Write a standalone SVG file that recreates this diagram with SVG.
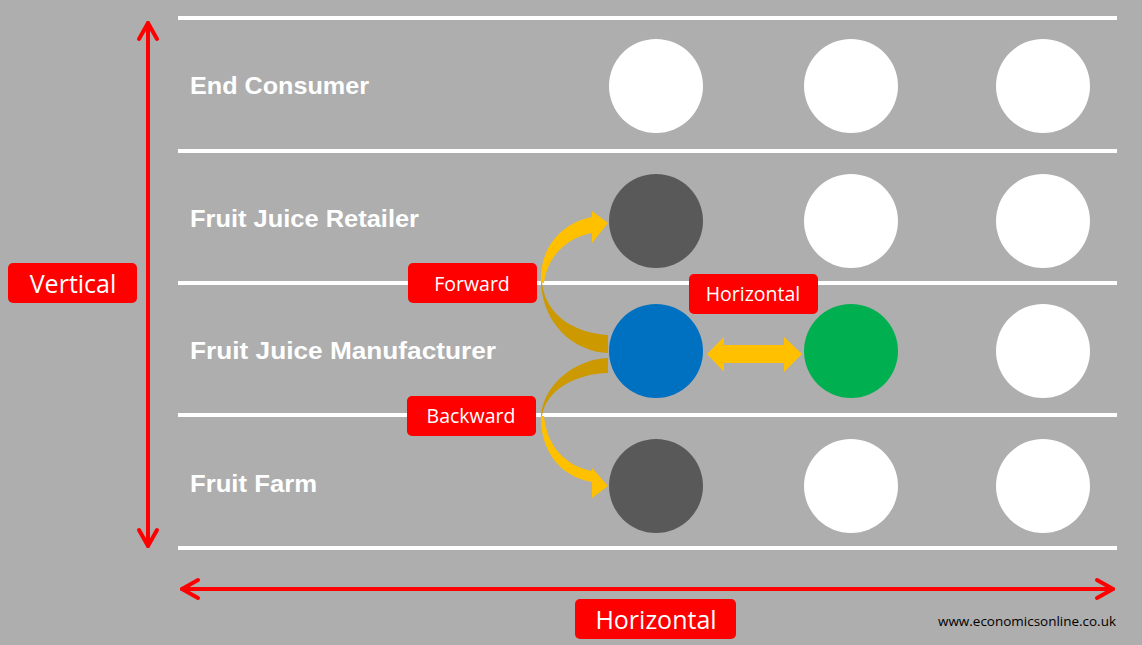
<svg xmlns="http://www.w3.org/2000/svg" width="1142" height="645" viewBox="0 0 1142 645">
<style>
.lane{stroke:#fff;stroke-width:4}
.row{font-family:"Liberation Sans",Arial,sans-serif;font-weight:bold;font-size:24px;fill:#fff}
.lbl{fill:#f00}
.lt{font-family:"Open Sans","Liberation Sans",sans-serif;fill:#fff;text-anchor:middle}
.w{fill:#fff}
.axis{stroke:#f00;stroke-width:4;fill:none;stroke-linecap:round;stroke-linejoin:round}
</style>
<rect width="1142" height="645" fill="#AEAEAE"/>
<g id="lanes">
<line class="lane" x1="178" y1="18" x2="1117" y2="18"/>
<line class="lane" x1="178" y1="151" x2="1117" y2="151"/>
<line class="lane" x1="178" y1="283" x2="1117" y2="283"/>
<line class="lane" x1="178" y1="415" x2="1117" y2="415"/>
<line class="lane" x1="178" y1="548" x2="1117" y2="548"/>
</g>
<g id="row-labels">
<text class="row" x="190" y="94" textLength="179" lengthAdjust="spacingAndGlyphs">End Consumer</text>
<text class="row" x="190" y="227" textLength="229" lengthAdjust="spacingAndGlyphs">Fruit Juice Retailer</text>
<text class="row" x="190" y="359" textLength="306" lengthAdjust="spacingAndGlyphs">Fruit Juice Manufacturer</text>
<text class="row" x="190" y="492" textLength="127" lengthAdjust="spacingAndGlyphs">Fruit Farm</text>
</g>
<g id="consumers">
<circle class="w" cx="656" cy="86" r="47"/>
<circle class="w" cx="851" cy="86" r="47"/>
<circle class="w" cx="1043" cy="86" r="47"/>
</g>
<g id="retailers">
<circle cx="656" cy="221" r="47" fill="#595959"/>
<circle class="w" cx="851" cy="221" r="47"/>
<circle class="w" cx="1043" cy="221" r="47"/>
</g>
<g id="manufacturers">
<circle cx="656" cy="351" r="47" fill="#0070C0"/>
<circle cx="851" cy="351" r="47" fill="#00B050"/>
<circle class="w" cx="1043" cy="351" r="47"/>
</g>
<g id="farms">
<circle cx="656" cy="486" r="47" fill="#595959"/>
<circle class="w" cx="851" cy="486" r="47"/>
<circle class="w" cx="1043" cy="486" r="47"/>
</g>
<g id="connectors">
<path d="M608,335 C575,333 546,316 542,283 L541,283 C543,325 575,352 608,353 Z" fill="#CC9A00"/>
<path d="M541,283 C539,250 560,223 592,217 L592,211 L608,223 L592,243 L592,233 C565,238 547,258 544,283 Z" fill="#FFC000"/>
<path d="M608,358 C575,359 543,385 541,416 L542,416 C546,390 575,374 608,373 Z" fill="#CC9A00"/>
<path d="M541,416 C540,450 560,477 592,482 L592,498 L608,486 L592,468 L592,471 C566,466 547,447 544,416 Z" fill="#FFC000"/>
<path d="M707,354 L724,337 L724,345 L784,345 L784,337 L802,354 L784,372 L784,363 L724,363 L724,372 Z" fill="#FFC000"/>
<line class="axis" x1="148" y1="23" x2="148" y2="546"/>
<polyline class="axis" points="139,39 148,23 157,39"/>
<polyline class="axis" points="139,530 148,546 157,530"/>
<line class="axis" x1="182" y1="589" x2="1113" y2="589"/>
<polyline class="axis" points="198,580 182,589 198,598"/>
<polyline class="axis" points="1097,580 1113,589 1097,598"/>
</g>
<g id="vertical-label">
<rect class="lbl" x="8" y="263" width="129" height="40" rx="5"/>
<text class="lt" x="73" y="293" font-size="25">Vertical</text>
</g>
<g id="horizontal-label">
<rect class="lbl" x="575" y="599" width="161" height="40" rx="5"/>
<text class="lt" x="656" y="629" font-size="25">Horizontal</text>
</g>
<g id="forward-label">
<rect class="lbl" x="408" y="263" width="129" height="40" rx="5"/>
<text class="lt" x="472" y="291" font-size="19.5">Forward</text>
</g>
<g id="backward-label">
<rect class="lbl" x="407" y="396" width="129" height="40" rx="5"/>
<text class="lt" x="471" y="423" font-size="19.5">Backward</text>
</g>
<g id="horizontal-small-label">
<rect class="lbl" x="689" y="274" width="129" height="40" rx="5"/>
<text class="lt" x="753" y="301" font-size="19.5">Horizontal</text>
</g>
<text x="938" y="626" font-family="'Open Sans','Liberation Sans',sans-serif" font-size="13" fill="#000" textLength="178" lengthAdjust="spacingAndGlyphs">www.economicsonline.co.uk</text>
</svg>
